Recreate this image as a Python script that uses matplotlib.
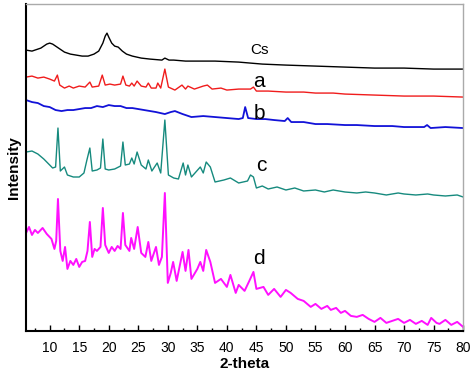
import matplotlib.pyplot as plt
from matplotlib.ticker import MultipleLocator

plt.rcParams['font.family'] = ['Liberation Sans', 'DejaVu Sans']

# --- XRD patterns (y in arbitrary units, stacked) ---
cs_x = [6, 7, 8, 8.5, 9.5, 10, 10.5, 11.5, 12.5, 13.5, 14.5, 15.5, 16.5, 17.5, 18.3, 19, 19.4,
        19.7, 20, 20.5, 21, 21.6, 22.3, 23, 24, 25.5, 27, 29, 29.5, 30.2, 31, 33, 35, 38, 42,
        46, 50, 55, 60, 65, 70, 75, 80]
cs_y = [281, 280, 282, 283, 287, 288, 287, 283, 279, 277, 276, 275, 275, 277, 280, 288, 295,
        298, 294, 288, 285, 284, 280, 277, 275, 273, 272, 271, 273, 271, 271, 270, 270, 270, 269,
        267, 266, 265, 264, 263, 263, 262, 262]

a_x = [6, 7, 8, 9, 10, 10.8, 11.3, 11.7, 12.5, 13.3, 14, 15, 16, 16.8, 17.2, 18.3, 18.9, 19.4,
       20.2, 21, 22, 22.4, 22.9, 23.5, 23.9, 24.3, 24.8, 25.5, 26.3, 26.7, 27.2, 28, 28.3, 28.8,
       29.5, 30.1, 31.2, 32.4, 33, 33.4, 34.5, 36, 36.7, 37.5, 39, 40, 42, 44, 44.5, 45, 47, 50,
       53, 55, 58, 60, 65, 70, 75, 80]
a_y = [254, 255, 253, 254, 252, 250, 256, 246, 243, 245, 243, 245, 244, 249, 244, 245, 256, 246,
       247, 246, 247, 255, 246, 245, 248, 245, 250, 245, 244, 248, 243, 243, 248, 243,
       262, 244, 241, 246, 242, 245, 242, 245, 246, 242, 243, 241, 242, 242, 244, 240, 240, 239,
       239, 238, 238, 237, 236, 235, 235, 234]

b_x = [6, 7, 8, 9, 10, 11, 12, 13, 14, 15, 16, 17, 18, 19, 20, 21, 22, 23, 24, 25, 26, 27, 28,
       29.5, 30.5, 31.2, 32.5, 34, 36, 38, 40, 42, 42.7, 43.1, 43.6, 45, 46.5, 48, 49.8, 50.3,
       50.9, 53, 55, 57, 60, 62, 65, 68, 70, 72, 73.4, 73.9, 74.5, 77, 80]
b_y = [231, 229, 228, 225, 224, 221, 220, 221, 221, 222, 223, 223, 225, 224, 226, 225, 225, 223,
       223, 222, 221, 220, 219, 217, 219, 220, 217, 214, 215, 214, 213, 212, 213, 224, 213, 212,
       212, 211, 210, 213, 209, 209, 207, 207, 206, 206, 205, 205, 204, 204, 204, 206, 203, 204,
       203]

c_x = [6, 7, 8, 9, 10.5, 11, 11.4, 11.8, 12.5, 13, 14, 15, 15.8, 16.3, 16.8, 17.2, 18, 18.6,
       19, 19.4, 20, 21, 22, 22.4, 22.8, 23.5, 23.9, 24.3, 24.8, 25.5, 26.3, 26.7, 27.3, 28.2,
       28.8, 29.5, 30.1, 31, 31.8, 32.6, 33, 33.4, 34, 35.5, 36, 36.5, 37.2, 38, 39.5, 40.6,
       42, 43.5, 44, 44.5, 45, 46, 47, 48.5, 50, 51.5, 53, 55, 56.5, 58, 60, 62, 63.5, 65,
       67, 69, 70, 72, 74, 75, 77, 79, 80]
c_y = [179, 180, 177, 172, 163, 164, 203, 160, 164, 156, 154, 154, 158, 171, 183, 160, 161, 163,
       192, 162, 161, 162, 165, 189, 166, 167, 173, 167, 179, 166, 162, 171, 160, 168,
       158, 211, 156, 153, 152, 168, 156, 166, 154, 164, 158, 169, 164, 149, 151, 153,
       148, 150, 156, 154, 143, 145, 142, 144, 141, 143, 140, 141, 139, 141, 139, 138, 139, 138,
       136, 138, 137, 136, 137, 136, 135, 136, 134]

d_x = [6, 6.5, 7, 7.5, 8, 8.8, 9.5, 10.3, 10.8, 11.1, 11.4, 11.8, 12.2, 12.6, 13, 13.5, 14,
       14.5, 15, 15.5, 16, 16.4, 16.8, 17.2, 17.6, 18, 18.6, 19, 19.4, 20, 20.5, 21, 21.5, 22,
       22.4, 22.8, 23.5, 23.8, 24.3, 24.9, 25.5, 26.2, 26.7, 27.2, 28, 28.5, 29, 29.5, 30, 30.5,
       30.9, 31.5, 32.5, 33, 33.5, 34, 35, 35.5, 36, 36.5, 37.2, 38, 39, 40, 40.6, 41.5, 42,
       43, 43.8, 44.5, 45, 46.2, 47, 48, 49.1, 50, 50.8, 52, 53, 54.2, 55, 56, 57, 57.6, 58.5,
       59.3, 60, 61, 62, 63, 64, 65, 66, 67, 68, 69, 70, 71, 72, 73, 74, 74.6, 75.5, 76, 77,
       78, 79, 80]
d_y = [98, 104, 96, 101, 98, 103, 97, 92, 82, 90, 132, 80, 70, 84, 62, 70, 66,
       72, 64, 69, 70, 80, 109, 74, 82, 80, 84, 123, 86, 78, 84, 80, 85, 82,
       118, 86, 80, 93, 82, 104, 78, 74, 89, 70, 84, 66, 74, 138, 48, 58,
       69, 50, 79, 60, 81, 52, 62, 69, 60, 81, 69, 48, 52, 44, 56, 38, 46,
       40, 50, 59, 42, 44, 36, 42, 34, 41, 38, 32, 30, 24, 27, 22, 25, 21, 23,
       18, 20, 15, 14, 16, 12, 9, 13, 8, 10, 12, 8, 11, 7, 10, 6, 13, 8, 7, 11,
       6, 9, 4]

labels = ['Cs', 'a', 'b', 'c', 'd']
label_x = [45.5, 45.5, 45.5, 45.8, 45.5]
label_y = [281, 250, 218, 166, 72]
label_size = [11, 15, 15, 15, 15]

fig = plt.figure(figsize=(4.74, 3.76), dpi=100)
ax = fig.add_axes([0.055, 0.12, 0.922, 0.869])

ax.plot(cs_x, cs_y, color='black', lw=1.0)
ax.plot(a_x, a_y, color='#f01c1c', lw=1.0)
ax.plot(b_x, b_y, color='#1212d8', lw=1.3)
ax.plot(c_x, c_y, color='#168a7e', lw=1.0)
ax.plot(d_x, d_y, color='#ff10ff', lw=1.4)

for t, lx, ly, fs in zip(labels, label_x, label_y, label_size):
    ax.text(lx, ly, t, fontsize=fs, ha='center', va='center')

ax.set_xlim(6, 80)
ax.set_ylim(0, 327)
ax.xaxis.set_major_locator(MultipleLocator(5))
ax.xaxis.set_minor_locator(MultipleLocator(2.5))
ax.set_xticks(range(10, 81, 5))
ax.set_yticks([])
ax.tick_params(axis='x', which='major', direction='in', length=4, width=1, labelsize=10, pad=7)
ax.tick_params(axis='x', which='minor', direction='in', length=2.5, width=1)

for s in ['left', 'bottom']:
    ax.spines[s].set_linewidth(1.5)
for s in ['top', 'right']:
    ax.spines[s].set_color('#aaaaaa')
    ax.spines[s].set_linewidth(1.0)

ax.set_xlabel('2-theta', fontsize=11, fontweight='bold', labelpad=2)
ax.set_ylabel('Intensity', fontsize=11, fontweight='bold', labelpad=4)

fig.savefig('out.png', dpi=100)
